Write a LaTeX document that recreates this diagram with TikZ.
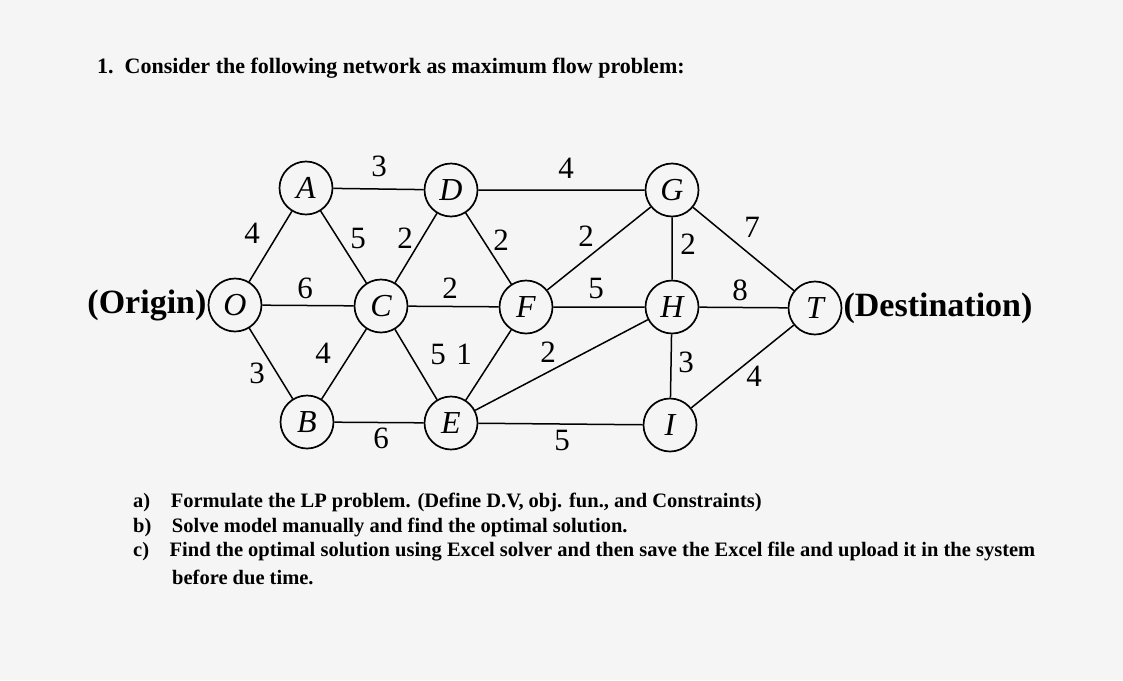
\documentclass[tikz,border=0pt]{standalone}
\usepackage{fontspec}
\setmainfont{Liberation Serif}
\begin{document}
\begin{tikzpicture}[x=1pt,y=-1pt,
  nd/.style={circle,draw,line width=1.7pt,minimum size=53pt,inner sep=0pt,font=\fontsize{32}{32}\selectfont\itshape},
  ed/.style={line width=1.5pt},
  lb/.style={font=\fontsize{31}{31}\selectfont,inner sep=1pt},
  tx/.style={anchor=west,inner sep=0pt,font=\fontsize{20.5}{24}\selectfont\bfseries}]
\fill[black!4] (0,0) rectangle (1123,680);
\useasboundingbox (0,0) rectangle (1123,680);
\node[tx,font=\fontsize{22}{26}\selectfont\bfseries] (title) at (97,68) {1.\ \ Consider the following network as maximum flow problem:};
\node[nd] (O) at (235,305) {O};
\node[nd] (A) at (306,188) {A};
\node[nd] (D) at (451,190) {D};
\node[nd] (G) at (672,190) {G};
\node[nd] (C) at (381,306) {C};
\node[nd] (F) at (526,307) {F};
\node[nd] (H) at (672,307) {H};
\node[nd] (T) at (815,308) {T};
\node[nd] (B) at (307,422) {B};
\node[nd] (E) at (451,423) {E};
\node[nd] (I) at (670,425) {I};
\node[lb,anchor=east,font=\fontsize{34}{34}\selectfont\bfseries] (orig) at (O.west) {(Origin)};
\node[lb,anchor=west,font=\fontsize{34}{34}\selectfont\bfseries] (dest) at (T.east) {(Destination)};
\draw[ed] (O)--(A) (O)--(C) (O)--(B) (A)--(D) (A)--(C) (C)--(D) (C)--(F) (C)--(B) (C)--(E)
 (D)--(G) (D)--(F) (F)--(G) (F)--(H) (F)--(E) (E)--(H) (B)--(E) (E)--(I) (G)--(H) (H)--(I)
 (G)--(T) (H)--(T) (I)--(T);
\node[lb] (l1) at (252,233) {4};
\node[lb] (l2) at (305,288) {6};
\node[lb] (l3) at (257,373) {3};
\node[lb] (l4) at (379,166) {3};
\node[lb] (l5) at (358,238) {5};
\node[lb] (l6) at (405,238) {2};
\node[lb] (l7) at (450,288) {2};
\node[lb] (l8) at (323,353) {4};
\node[lb] (l9) at (438,354) {5};
\node[lb] (l10) at (464,354) {1};
\node[lb] (l11) at (501,240) {2};
\node[lb] (l12) at (566,168) {4};
\node[lb] (l13) at (586,236) {2};
\node[lb] (l14) at (596,288) {5};
\node[lb] (l15) at (548,352) {2};
\node[lb] (l16) at (381,438) {6};
\node[lb] (l17) at (562,440) {5};
\node[lb] (l18) at (688,244) {2};
\node[lb] (l19) at (686,362) {3};
\node[lb] (l20) at (752,227) {7};
\node[lb] (l21) at (740,290) {8};
\node[lb] (l22) at (754,376) {4};
\node[tx] (qa) at (133,502) {a)\quad Formulate the LP problem. (Define D.V, obj. fun., and Constraints)};
\node[tx] (qb) at (133,527) {b)\quad Solve model manually and find the optimal solution.};
\node[tx] (qc) at (133,552) {c)\quad Find the optimal solution using Excel solver and then save the Excel file and upload it in the system};
\node[tx] (qd) at (172,577) {before due time.};
\end{tikzpicture}
\end{document}
